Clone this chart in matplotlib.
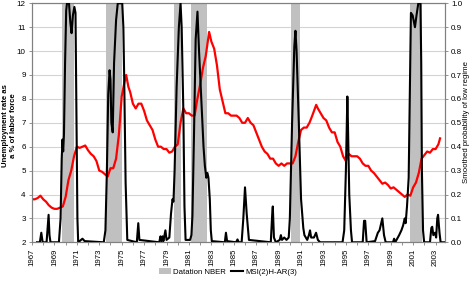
import numpy as np
import matplotlib
matplotlib.use("Agg")
import matplotlib.pyplot as plt
from matplotlib.patches import Patch
from matplotlib.lines import Line2D

plt.rcParams['font.family'] = ['Liberation Sans', 'DejaVu Sans']

# Taux de chomage (axe gauche)
t_chom = [1967.0, 1967.25, 1967.5, 1967.75, 1968.0, 1968.25, 1968.5, 1968.75,
          1969.0, 1969.25, 1969.5, 1969.75, 1970.0, 1970.25, 1970.5, 1970.75,
          1971.0, 1971.25, 1971.5, 1971.75, 1972.0, 1972.25, 1972.5, 1972.75,
          1973.0, 1973.25, 1973.5, 1973.75, 1974.0, 1974.25, 1974.5, 1974.75,
          1975.0, 1975.25, 1975.4, 1975.6, 1975.75, 1976.0, 1976.25, 1976.5, 1976.75,
          1977.0, 1977.25, 1977.5, 1977.75, 1978.0, 1978.25, 1978.5, 1978.75,
          1979.0, 1979.25, 1979.5, 1979.75, 1980.0, 1980.25, 1980.5, 1980.75,
          1981.0, 1981.25, 1981.5, 1981.75, 1982.0, 1982.25, 1982.5, 1982.8,
          1983.0, 1983.25, 1983.5, 1983.75, 1984.0, 1984.25, 1984.5, 1984.75,
          1985.0, 1985.25, 1985.5, 1985.75, 1986.0, 1986.25, 1986.5, 1986.75,
          1987.0, 1987.25, 1987.5, 1987.75, 1988.0, 1988.25, 1988.5, 1988.75,
          1989.0, 1989.25, 1989.5, 1989.75, 1990.0, 1990.25, 1990.5, 1990.75,
          1991.0, 1991.25, 1991.5, 1991.75, 1992.0, 1992.35, 1992.5, 1992.75,
          1993.0, 1993.25, 1993.5, 1993.75, 1994.0, 1994.25, 1994.5, 1994.75,
          1995.0, 1995.25, 1995.5, 1995.75, 1996.0, 1996.25, 1996.5, 1996.75,
          1997.0, 1997.25, 1997.5, 1997.75, 1998.0, 1998.25, 1998.5, 1998.75,
          1999.0, 1999.25, 1999.5, 1999.75, 2000.0, 2000.25, 2000.5, 2000.75,
          2001.0, 2001.25, 2001.5, 2001.75, 2002.0, 2002.25, 2002.5, 2002.75,
          2003.0, 2003.25, 2003.4]
chomage = [3.8, 3.8, 3.85, 3.95, 3.8, 3.7, 3.55, 3.45,
           3.4, 3.4, 3.45, 3.5, 3.9, 4.6, 5.0, 5.6,
           6.0, 5.95, 6.0, 6.05, 5.85, 5.7, 5.6, 5.4,
           5.0, 4.95, 4.85, 4.75, 5.1, 5.1, 5.5, 6.5,
           8.1, 8.7, 9.0, 8.5, 8.3, 7.8, 7.6, 7.8, 7.8,
           7.5, 7.1, 6.9, 6.7, 6.3, 6.0, 6.0, 5.9,
           5.9, 5.75, 5.8, 6.0, 6.1, 7.0, 7.6, 7.4,
           7.4, 7.3, 7.3, 8.0, 8.6, 9.3, 9.8, 10.8,
           10.4, 10.1, 9.4, 8.4, 7.9, 7.4, 7.4, 7.3,
           7.3, 7.3, 7.2, 7.0, 7.0, 7.2, 7.0, 6.9,
           6.6, 6.3, 6.0, 5.8, 5.7, 5.5, 5.5, 5.3,
           5.2, 5.3, 5.2, 5.3, 5.3, 5.3, 5.6, 6.2,
           6.7, 6.8, 6.8, 7.0, 7.3, 7.75, 7.6, 7.4,
           7.2, 7.1, 6.8, 6.6, 6.6, 6.2, 6.0, 5.6,
           5.4, 5.7, 5.6, 5.6, 5.6, 5.5, 5.3, 5.2,
           5.2, 5.0, 4.9, 4.75, 4.6, 4.45, 4.5, 4.4,
           4.25, 4.3, 4.2, 4.1, 4.0, 3.9, 4.0, 3.95,
           4.3, 4.5, 4.9, 5.5, 5.65, 5.8, 5.75, 5.9,
           5.9, 6.1, 6.35]

# Probabilite lissee du regime bas (axe droit)
t_prob = [1967.45, 1967.7, 1967.83, 1967.95, 1968.3, 1968.42, 1968.48, 1968.56, 1968.65,
          1969.4, 1969.55, 1969.65, 1969.72, 1969.78, 1969.85, 1969.95, 1970.05, 1970.12,
          1970.3, 1970.42, 1970.53, 1970.65, 1970.78, 1970.88, 1970.95, 1971.05, 1971.12,
          1971.5, 1971.7, 1973.4, 1973.55, 1973.68, 1973.8, 1973.92, 1974.0, 1974.08,
          1974.2, 1974.32, 1974.5, 1974.65, 1975.05, 1975.15, 1975.22, 1975.35, 1975.5,
          1976.35, 1976.48, 1976.58, 1978.35, 1978.46, 1978.55, 1978.64, 1978.72, 1978.9,
          1979.0, 1979.25, 1979.4, 1979.53, 1979.62, 1979.72, 1979.9, 1980.1, 1980.25,
          1980.35, 1980.5, 1980.6, 1980.7, 1981.1, 1981.22, 1981.31, 1981.45, 1981.6,
          1981.76, 1981.9, 1982.1, 1982.3, 1982.42, 1982.55, 1982.65, 1982.74, 1982.86,
          1982.95, 1983.04, 1984.2, 1984.3, 1984.4, 1985.2, 1985.33, 1985.45, 1985.7,
          1985.85, 1986.0, 1986.15, 1986.35, 1988.3, 1988.43, 1988.48, 1988.58, 1988.75,
          1989.1, 1989.2, 1989.3, 1989.5, 1989.7, 1989.9, 1990.0, 1990.2, 1990.4, 1990.5,
          1990.6, 1990.8, 1991.0, 1991.2, 1991.3, 1991.55, 1991.7, 1991.8, 1991.9,
          1992.15, 1992.34, 1992.5, 1992.7, 1994.7, 1994.85, 1995.0, 1995.13, 1995.18,
          1995.3, 1995.45, 1995.55, 1996.5, 1996.62, 1996.72, 1996.85, 1997.6, 1997.85,
          1998.0, 1998.25, 1998.4, 1998.55, 1999.2, 1999.3, 1999.4, 1999.75, 1999.95,
          2000.1, 2000.25, 2000.33, 2000.45, 2000.6, 2000.72, 2000.8, 2000.95, 2001.08,
          2001.16, 2001.3, 2001.46, 2001.65, 2001.72, 2001.78, 2001.88, 2001.98, 2002.5,
          2002.62, 2002.7, 2002.8, 2002.95, 2003.05, 2003.15, 2003.22, 2003.35, 2003.45,
          2003.84]
prob = [0.0, 0.0, 0.04, 0.0, 0.0, 0.08, 0.115, 0.03, 0.0,
        0.0, 0.1, 0.35, 0.43, 0.38, 0.45, 0.75, 0.97, 1.0,
        1.0, 0.92, 0.875, 0.95, 0.985, 0.96, 0.6, 0.1, 0.0,
        0.015, 0.005, 0.0, 0.05, 0.3, 0.62, 0.72, 0.68, 0.5,
        0.46, 0.75, 0.93, 1.0, 1.0, 0.9, 0.7, 0.25, 0.01,
        0.0, 0.08, 0.01, 0.0, 0.025, 0.005, 0.025, 0.005, 0.05,
        0.01, 0.02, 0.12, 0.18, 0.17, 0.3, 0.65, 0.9, 1.0,
        0.9, 0.55, 0.15, 0.01, 0.01, 0.03, 0.11, 0.45, 0.85,
        0.965, 0.8, 0.6, 0.4, 0.32, 0.27, 0.29, 0.27, 0.18,
        0.05, 0.005, 0.0, 0.04, 0.005, 0.0, 0.012, 0.0, 0.0,
        0.1, 0.23, 0.12, 0.01, 0.0, 0.12, 0.15, 0.02, 0.0,
        0.01, 0.03, 0.01, 0.02, 0.01, 0.02, 0.1, 0.5, 0.82, 0.885,
        0.8, 0.5, 0.18, 0.06, 0.03, 0.01, 0.03, 0.05, 0.02,
        0.02, 0.04, 0.01, 0.0, 0.0, 0.05, 0.3, 0.61, 0.5,
        0.2, 0.05, 0.0, 0.0, 0.09, 0.09, 0.0, 0.005, 0.04,
        0.05, 0.1, 0.03, 0.0, 0.0, 0.015, 0.0, 0.03, 0.05,
        0.07, 0.1, 0.08, 0.15, 0.27, 0.7, 0.96, 0.95, 0.92,
        0.9, 0.95, 1.0, 1.0, 0.75, 0.3, 0.05, 0.0, 0.0,
        0.06, 0.065, 0.03, 0.04, 0.02, 0.1, 0.115, 0.04, 0.0,
        0.0]

# Recessions NBER (debut, fin) telles que dessinees
nber_debut = [1969.67, 1973.62, 1979.68, 1981.17, 1990.11, 2000.72]
nber_fin = [1970.71, 1975.02, 1980.33, 1982.62, 1990.88, 2001.76]

annees = list(range(1967, 2004, 2))

fig = plt.figure(figsize=(4.74, 2.83), dpi=100)
ax = fig.add_axes([32 / 474, 40.7 / 283, 413 / 474, 239 / 283])

for d, f in zip(nber_debut, nber_fin):
    ax.axvspan(d, f, color='#c0c0c0', lw=0, zorder=1)

ax.plot(t_chom, chomage, color='#ff0000', lw=1.6, zorder=3)
ax.set_xlim(1967.0, 2003.84)
ax.set_ylim(2, 12)
ax.set_yticks(range(2, 13))
ax.yaxis.grid(True, color='#d4d4d4', lw=0.8, zorder=0)
ax.set_axisbelow(True)
ax.set_xticks(annees)
ax.set_xticklabels([str(a) for a in annees], rotation=90, fontsize=5.6)
ax.set_xticks(range(1967, 2004), minor=True)
ax.tick_params(axis='x', which='both', length=2.5, width=0.6, color='#808080', pad=2)
ax.tick_params(axis='y', labelsize=5.8, length=2.5, width=0.6, color='#808080', pad=2)

ax2 = ax.twinx()
ax2.plot(t_prob, prob, color='black', lw=1.5, zorder=4)
ax2.set_ylim(0, 1)
ax2.set_yticks(np.arange(0, 1.01, 0.1))
ax2.set_yticklabels([f"{v:.1f}" for v in np.arange(0, 1.01, 0.1)])
ax2.tick_params(axis='y', labelsize=5.8, length=2.5, width=0.6, color='#808080', pad=2)

for a in (ax, ax2):
    for s in a.spines.values():
        s.set_color('#808080')
        s.set_linewidth(0.8)

fig.text(10 / 474, 0.555, "Unemployment rate as\na % of labor force", rotation=90,
         ha='center', va='center', fontsize=5.6, fontweight='bold', multialignment='center')
fig.text(467 / 474, 0.57, "Smoothed probability of low regime", rotation=90,
         ha='center', va='center', fontsize=5.6)

handles = [Patch(facecolor='#c0c0c0', edgecolor='none'),
           Line2D([0], [0], color='black', lw=1.5)]
fig.legend(handles, ['Datation NBER', 'MSI(2)H-AR(3)'], loc='center',
           bbox_to_anchor=(228 / 474, 11 / 283), ncol=2, frameon=False, fontsize=5.6,
           handlelength=1.6, handleheight=0.8, handletextpad=0.3, columnspacing=0.6)

fig.savefig('out.png', dpi=100)
